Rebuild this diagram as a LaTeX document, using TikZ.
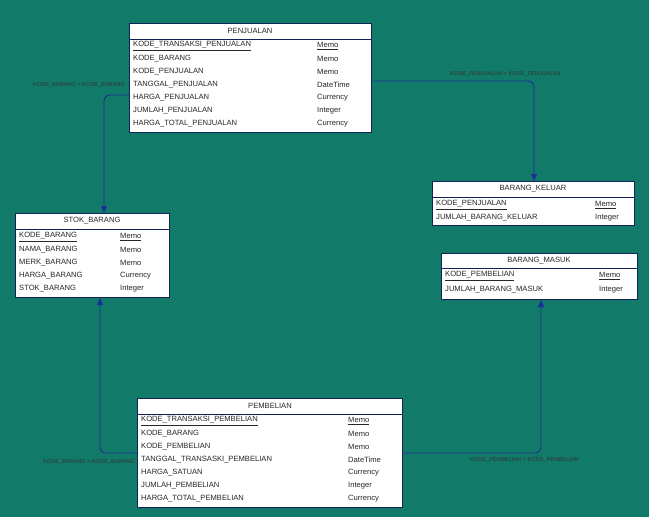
\documentclass[tikz,border=0pt]{standalone}
\usepackage{fontspec}
\setmainfont{Liberation Sans}
\usetikzlibrary{arrows.meta}
\definecolor{bg}{HTML}{127A68}
\definecolor{lnk}{HTML}{1C2F9A}
\definecolor{brd}{HTML}{14205A}
\begin{document}
\begin{tikzpicture}[x=1pt,y=-1pt,
  tbl/.style={draw=brd,line width=1pt,fill=white,anchor=north west,inner sep=0pt},
  txt/.style={anchor=west,inner sep=0pt,font=\fontsize{7.6}{8}\selectfont,text=black!85},
  hd/.style={anchor=center,inner sep=0pt,font=\fontsize{7.6}{8}\selectfont,text=black!85},
  lbl/.style={anchor=west,inner sep=0pt,font=\fontsize{5.6}{6}\selectfont,text=black!80},
  rel/.style={draw=lnk,line width=0.9pt,rounded corners=6pt,-{Triangle[length=7pt,width=6pt]}}]
\fill[bg] (0,0) rectangle (649,517);
\useasboundingbox (0,0) rectangle (649,517);
% labels (behind tables)
\node[lbl] (l1) at (33,85) {KODE\_BARANG = KODE\_BARANG};
\node[lbl] (l2) at (450,74) {KODE\_PENJUALAN = KODE\_PENJUALAN};
\node[lbl] (l3) at (43,462) {KODE\_BARANG = KODE\_BARANG};
\node[lbl] (l4) at (470,460) {KODE\_PEMBELIAN = KODE\_PEMBELIAN};
% tables
\node[tbl,minimum width=242pt,minimum height=109pt] (pen) at (129,23) {};
\node[tbl,minimum width=154pt,minimum height=84pt] (stok) at (15,213) {};
\node[tbl,minimum width=202pt,minimum height=44pt] (kel) at (432,181) {};
\node[tbl,minimum width=196pt,minimum height=46pt] (mas) at (441,253) {};
\node[tbl,minimum width=265pt,minimum height=109pt] (pem) at (137,398) {};
% connectors
\coordinate (a1) at (129,95); \coordinate (a2) at (371,81);
\coordinate (a3) at (137,453); \coordinate (a4) at (402,453);
\draw[rel] (a1) -| (stok.north -| 104,0);
\draw[rel] (a2) -| (kel.north -| 534,0);
\draw[rel] (a3) -| (stok.south -| 100,0);
\draw[rel] (a4) -| (mas.south -| 541,0);
% header lines
\draw[brd,line width=0.8pt] (129,39) -- (371,39);
\draw[brd,line width=0.8pt] (15,229) -- (169,229);
\draw[brd,line width=0.8pt] (432,197) -- (634,197);
\draw[brd,line width=0.8pt] (441,268) -- (637,268);
\draw[brd,line width=0.8pt] (137,414) -- (402,414);
% PENJUALAN
\node[hd] (penh) at (250,31) {PENJUALAN};
\node[txt] (p1) at (133,46) {\underline{KODE\_TRANSAKSI\_PENJUALAN}};
\node[txt] (p2) at (133,59) {KODE\_BARANG};
\node[txt] (p3) at (133,72) {KODE\_PENJUALAN};
\node[txt] (p4) at (133,85) {TANGGAL\_PENJUALAN};
\node[txt] (p5) at (133,98) {HARGA\_PENJUALAN};
\node[txt] (p6) at (133,111) {JUMLAH\_PENJUALAN};
\node[txt] (p7) at (133,124) {HARGA\_TOTAL\_PENJUALAN};
\node[txt] (pt1) at (317,46) {\underline{Memo}};
\node[txt] (pt2) at (317,59) {Memo};
\node[txt] (pt3) at (317,72) {Memo};
\node[txt] (pt4) at (317,85) {DateTime};
\node[txt] (pt5) at (317,98) {Currency};
\node[txt] (pt6) at (317,111) {Integer};
\node[txt] (pt7) at (317,124) {Currency};
% STOK_BARANG
\node[hd] (stokh) at (92,221) {STOK\_BARANG};
\node[txt] (s1) at (19,237) {\underline{KODE\_BARANG}};
\node[txt] (s2) at (19,250) {NAMA\_BARANG};
\node[txt] (s3) at (19,263) {MERK\_BARANG};
\node[txt] (s4) at (19,276) {HARGA\_BARANG};
\node[txt] (s5) at (19,289) {STOK\_BARANG};
\node[txt] (st1) at (120,237) {\underline{Memo}};
\node[txt] (st2) at (120,250) {Memo};
\node[txt] (st3) at (120,263) {Memo};
\node[txt] (st4) at (120,276) {Currency};
\node[txt] (st5) at (120,289) {Integer};
% BARANG_KELUAR
\node[hd] (kelh) at (533,189) {BARANG\_KELUAR};
\node[txt] (k1) at (436,205) {\underline{KODE\_PENJUALAN}};
\node[txt] (k2) at (436,218) {JUMLAH\_BARANG\_KELUAR};
\node[txt] (kt1) at (595,205) {\underline{Memo}};
\node[txt] (kt2) at (595,218) {Integer};
% BARANG_MASUK
\node[hd] (mash) at (539,261) {BARANG\_MASUK};
\node[txt] (m1) at (445,276) {\underline{KODE\_PEMBELIAN}};
\node[txt] (m2) at (445,290) {JUMLAH\_BARANG\_MASUK};
\node[txt] (mt1) at (599,276) {\underline{Memo}};
\node[txt] (mt2) at (599,290) {Integer};
% PEMBELIAN
\node[hd] (pemh) at (270,406) {PEMBELIAN};
\node[txt] (b1) at (141,421) {\underline{KODE\_TRANSAKSI\_PEMBELIAN}};
\node[txt] (b2) at (141,434) {KODE\_BARANG};
\node[txt] (b3) at (141,447) {KODE\_PEMBELIAN};
\node[txt] (b4) at (141,460) {TANGGAL\_TRANSASKI\_PEMBELIAN};
\node[txt] (b5) at (141,473) {HARGA\_SATUAN};
\node[txt] (b6) at (141,486) {JUMLAH\_PEMBELIAN};
\node[txt] (b7) at (141,499) {HARGA\_TOTAL\_PEMBELIAN};
\node[txt] (bt1) at (348,421) {\underline{Memo}};
\node[txt] (bt2) at (348,434) {Memo};
\node[txt] (bt3) at (348,447) {Memo};
\node[txt] (bt4) at (348,460) {DateTime};
\node[txt] (bt5) at (348,473) {Currency};
\node[txt] (bt6) at (348,486) {Integer};
\node[txt] (bt7) at (348,499) {Currency};
\end{tikzpicture}
\end{document}
